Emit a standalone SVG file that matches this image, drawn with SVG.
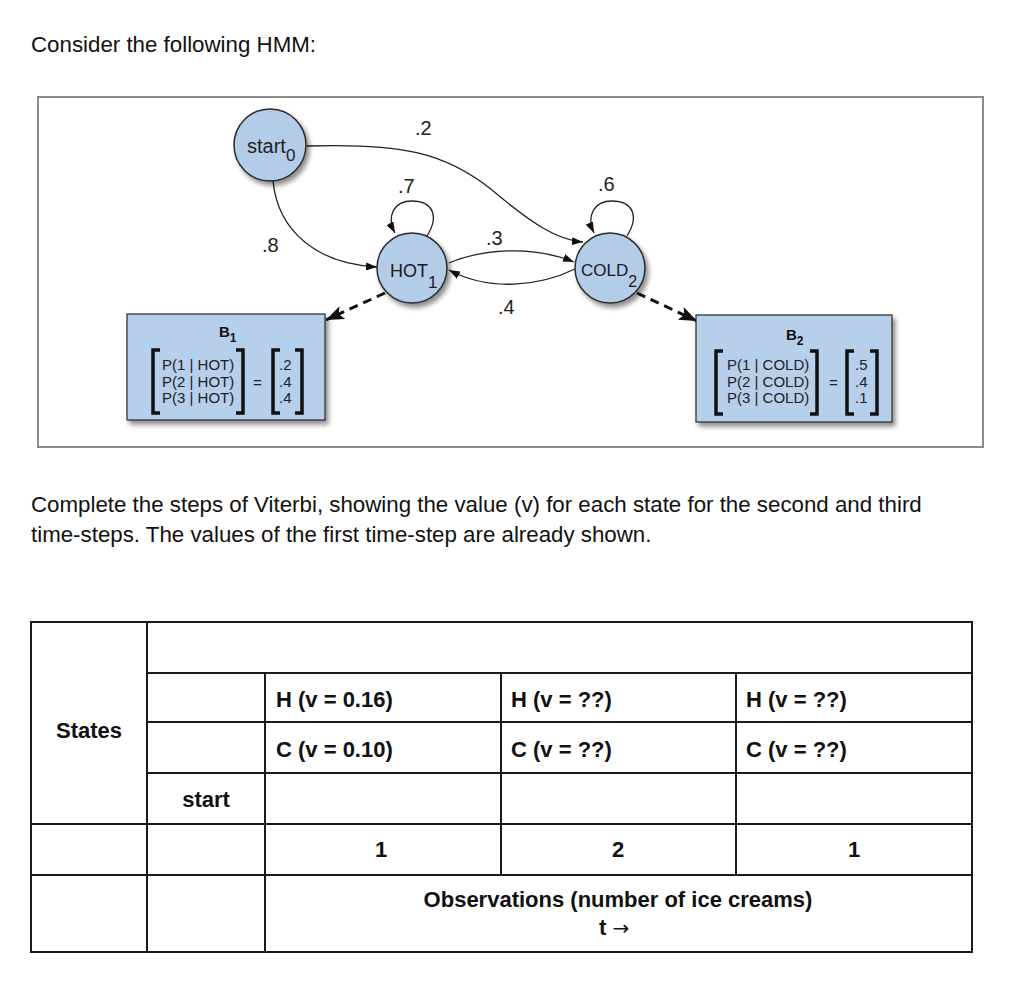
<svg xmlns="http://www.w3.org/2000/svg" width="1024" height="1004" viewBox="0 0 1024 1004">
<style>
  .txt { font-family: "Liberation Sans", Arial, sans-serif; fill: #111; }
  .big { font-size: 22px; }
  .para { font-size: 22.3px; }
  .bold { font-weight: bold; }
  .lbl { font-family: "Liberation Sans", Arial, sans-serif; font-size: 20px; fill: #222; }
  .nlbl { font-family: "Liberation Sans", Arial, sans-serif; font-size: 18px; fill: #1a1a1a; }
  .node { fill: #b3cde9; stroke: #2a2a2a; stroke-width: 1.5; }
  .box { fill: #b6cfea; stroke: #2a2a2a; stroke-width: 1.2; }
  .edge { fill: none; stroke: #222; stroke-width: 1.3; }
  .dash { fill: none; stroke: #111; stroke-width: 3; stroke-dasharray: 9 6; }
  .brk { fill: none; stroke: #111; stroke-width: 3.5; }
  .mtx { font-family: "Liberation Sans", Arial, sans-serif; font-size: 15px; fill: #222; }
  .grid { stroke: #1a1a1a; stroke-width: 2; fill: none; }
</style>
<defs>
  <marker id="arr" markerWidth="11" markerHeight="8" refX="11" refY="4" orient="auto" markerUnits="userSpaceOnUse">
    <path d="M0,0 L11,4 L0,8 z" fill="#111"/>
  </marker>
  <marker id="bigarr" markerWidth="18" markerHeight="14" refX="18" refY="7" orient="auto" markerUnits="userSpaceOnUse">
    <path d="M0,0 L18,7 L0,14 L4,7 z" fill="#111"/>
  </marker>
  <filter id="shadow" x="-20%" y="-20%" width="150%" height="150%">
    <feGaussianBlur in="SourceAlpha" stdDeviation="2.5"/>
    <feOffset dx="3" dy="4" result="b"/>
    <feComponentTransfer><feFuncA type="linear" slope="0.45"/></feComponentTransfer>
    <feMerge><feMergeNode/><feMergeNode in="SourceGraphic"/></feMerge>
  </filter>
</defs>
<rect width="1024" height="1004" fill="#ffffff"/>

<text class="txt para" x="31" y="52">Consider the following HMM:</text>

<g id="hmm-frame">
  <rect x="38" y="97" width="945" height="350" fill="#ffffff" stroke="#8a8a8a" stroke-width="2"/>
</g>

<g id="connectors">
  <path class="edge" d="M273,181 C278,232 318,264 377,267" marker-end="url(#arr)"/>
  <path class="edge" d="M307,146 C400,143 445,152 492,190 C530,222 556,240 583,242" marker-end="url(#arr)"/>
  <path class="edge" d="M449,263 C482,249 532,245 574,262" marker-end="url(#arr)"/>
  <path class="edge" d="M575,269 C540,286 490,292 449,270" marker-end="url(#arr)"/>
  <path class="edge" d="M427,236 C440,215 432,201 412,201 C394,201 386,216 395,233" marker-end="url(#arr)"/>
  <path class="edge" d="M627,236 C640,215 632,201 612,201 C594,201 586,216 594,233" marker-end="url(#arr)"/>
  <path class="dash" d="M385,293 L326,320" marker-end="url(#bigarr)"/>
  <path class="dash" d="M637,293 L697,321" marker-end="url(#bigarr)"/>
  <text class="lbl" x="415" y="135">.2</text>
  <text class="lbl" x="398" y="193">.7</text>
  <text class="lbl" x="598" y="191">.6</text>
  <text class="lbl" x="262" y="252">.8</text>
  <text class="lbl" x="486" y="245">.3</text>
  <text class="lbl" x="498" y="314">.4</text>
</g>

<g id="node-start">
  <circle class="node" cx="270" cy="145" r="36" filter="url(#shadow)"/>
  <text class="lbl" x="247" y="153">start<tspan font-size="17" dy="8">0</tspan></text>
</g>

<g id="node-hot">
  <circle class="node" cx="412" cy="268" r="35" filter="url(#shadow)"/>
  <text class="nlbl" x="390" y="277">HOT<tspan font-size="17" dy="11">1</tspan></text>
</g>

<g id="node-cold">
  <circle class="node" cx="610" cy="268" r="35" filter="url(#shadow)"/>
  <text class="nlbl" font-size="17" x="581" y="276" style="font-size:17px">COLD<tspan font-size="16" dy="11">2</tspan></text>
</g>

<g id="node-b1">
  <rect class="box" x="127" y="314" width="198" height="106" filter="url(#shadow)"/>
  <text class="txt bold" font-size="15" x="219" y="337">B<tspan font-size="12" dy="5">1</tspan></text>
  <path class="brk" d="M160,350 H153 V413 H160"/>
  <path class="brk" d="M236,350 H243 V413 H236"/>
  <text class="mtx" x="162" y="370">P(1 | HOT)</text>
  <text class="mtx" x="162" y="387">P(2 | HOT)</text>
  <text class="mtx" x="162" y="403">P(3 | HOT)</text>
  <text class="mtx" x="253" y="388">=</text>
  <path class="brk" d="M280,350 H273 V413 H280"/>
  <path class="brk" d="M295,350 H302 V413 H295"/>
  <text class="mtx" x="279" y="370">.2</text>
  <text class="mtx" x="279" y="387">.4</text>
  <text class="mtx" x="279" y="403">.4</text>
</g>

<g id="node-b2">
  <rect class="box" x="696" y="315" width="196" height="107" filter="url(#shadow)"/>
  <text class="txt bold" font-size="15" x="786" y="340">B<tspan font-size="12" dy="5">2</tspan></text>
  <path class="brk" d="M723,351 H716 V414 H723"/>
  <path class="brk" d="M810,351 H817 V414 H810"/>
  <text class="mtx" x="727" y="370">P(1 | COLD)</text>
  <text class="mtx" x="727" y="387">P(2 | COLD)</text>
  <text class="mtx" x="727" y="403">P(3 | COLD)</text>
  <text class="mtx" x="829" y="388">=</text>
  <path class="brk" d="M854,351 H847 V414 H854"/>
  <path class="brk" d="M870,351 H877 V414 H870"/>
  <text class="mtx" x="855" y="370">.5</text>
  <text class="mtx" x="855" y="387">.4</text>
  <text class="mtx" x="855" y="403">.1</text>
</g>

<text class="txt para" x="31" y="512">Complete the steps of Viterbi, showing the value (v) for each state for the second and third</text>
<text class="txt para" x="31" y="542">time-steps. The values of the first time-step are already shown.</text>

<g id="table">
  <rect class="grid" x="31" y="622" width="941" height="330"/>
  <line class="grid" x1="147" y1="622" x2="147" y2="952"/>
  <line class="grid" x1="265" y1="673" x2="265" y2="952"/>
  <line class="grid" x1="501" y1="673" x2="501" y2="875"/>
  <line class="grid" x1="736" y1="673" x2="736" y2="875"/>
  <line class="grid" x1="147" y1="673" x2="972" y2="673"/>
  <line class="grid" x1="147" y1="722" x2="972" y2="722"/>
  <line class="grid" x1="147" y1="773" x2="972" y2="773"/>
  <line class="grid" x1="31" y1="824" x2="972" y2="824"/>
  <line class="grid" x1="31" y1="875" x2="972" y2="875"/>
  <g class="txt big bold">
    <text x="89" y="738" text-anchor="middle">States</text>
    <text x="206" y="807" text-anchor="middle">start</text>
    <text x="276" y="707">H (v = 0.16)</text>
    <text x="276" y="757">C (v = 0.10)</text>
    <text x="511" y="707">H (v = ??)</text>
    <text x="511" y="757">C (v = ??)</text>
    <text x="746" y="707">H (v = ??)</text>
    <text x="746" y="757">C (v = ??)</text>
    <text x="381" y="857" text-anchor="middle">1</text>
    <text x="618" y="857" text-anchor="middle">2</text>
    <text x="854" y="857" text-anchor="middle">1</text>
    <text x="618" y="907" text-anchor="middle">Observations (number of ice creams)</text>
    <text x="599" y="935">t <tspan font-family="'DejaVu Sans', sans-serif" font-weight="normal" font-size="20">→</tspan></text>
  </g>
</g>
</svg>
